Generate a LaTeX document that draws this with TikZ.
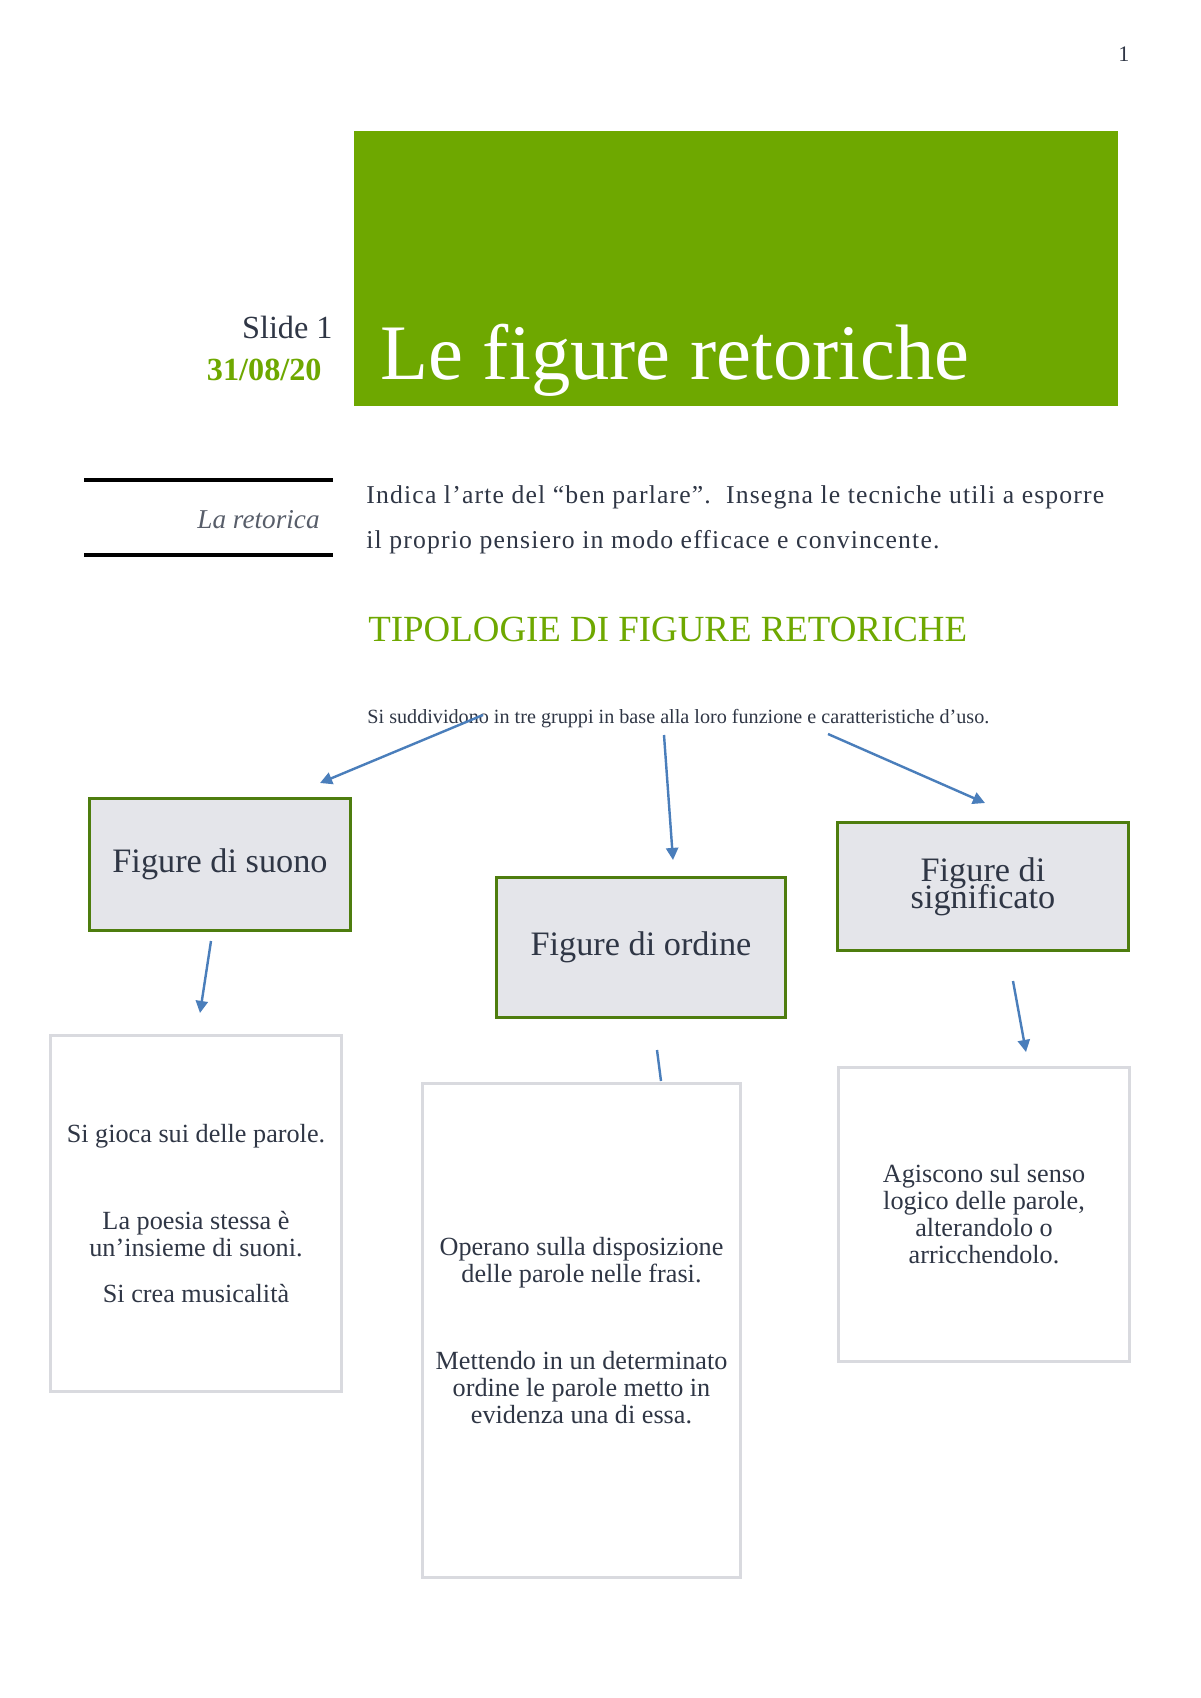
\documentclass[tikz,border=0pt]{standalone}
\usepackage{fontspec}
\setmainfont{Liberation Serif}
\newfontfamily\widefont[LetterSpace=4.5]{Liberation Serif}
\usetikzlibrary{arrows.meta}
\definecolor{titlegreen}{HTML}{6EA800}
\definecolor{boxgreen}{HTML}{4E7D0E}
\definecolor{boxfill}{HTML}{E4E5EA}
\definecolor{boxgrey}{HTML}{D9DADF}
\definecolor{arrowblue}{HTML}{4A7EBB}
\definecolor{inkgrey}{HTML}{2F3645}
\newcommand\tightlines{\lineskiplimit=-100pt\relax}
\begin{document}
\begin{tikzpicture}[x=0.4961pt, y=-0.4961pt, >={Triangle[length=6pt,width=6pt]},
	typebox/.style={draw=boxgreen, line width=1.5pt, fill=boxfill, text=inkgrey, align=center, font=\fontsize{17}{13.4}\selectfont\tightlines},
	notebox/.style={draw=boxgrey, line width=1.5pt, fill=white, text=inkgrey, align=center, font=\fontsize{13}{13.4}\selectfont\tightlines},
	link/.style={draw=arrowblue, line width=1.2pt}]
		\useasboundingbox [fill=white] (0,0) rectangle (1200,1698);
		\node [anchor=base, text=inkgrey, font=\fontsize{11}{13}\selectfont] (pagenum) at ( 1124, 61 ) {1};
		\node [anchor=north west, fill=titlegreen, minimum width=379pt, minimum height=136pt, inner sep=0pt] (header) at ( 354, 131 ) {};
		\node [anchor=base west, text=white, font=\fontsize{39}{44}\selectfont, inner sep=0pt] (title) at ( 380, 379 ) {Le figure retoriche};
		\node [anchor=base east, text=inkgrey, font=\fontsize{16}{19}\selectfont, inner sep=0pt] (slide) at ( 333, 338 ) {Slide 1};
		\node [anchor=base east, text=titlegreen, font=\fontsize{16}{19}\selectfont\bfseries, inner sep=0pt] (date) at ( 322, 380 ) {31/08/20};
		\draw [line width=2pt] ( 84, 480 ) -- ( 333, 480 );
		\draw [line width=1.5pt] ( 84, 555 ) -- ( 333, 555 );
		\node [anchor=base east, text=inkgrey!80, font=\fontsize{13.5}{16}\selectfont\itshape, inner sep=0pt] (retorica) at ( 320, 528 ) {La retorica};
		\node [anchor=base west, align=left, text=inkgrey, font=\widefont\fontsize{12.75}{22.3}\selectfont, inner sep=0pt] (intro) at ( 366, 548 ) {Indica l’arte del “ben parlare”.\ \ Insegna le tecniche utili a esporre\\il proprio pensiero in modo efficace e convincente.};
		\node [anchor=base west, text=titlegreen, font=\fontsize{18.3}{22}\selectfont, inner sep=0pt] (tipologie) at ( 368, 641 ) {TIPOLOGIE DI FIGURE RETORICHE};
		\node [anchor=base west, text=inkgrey, font=\fontsize{10}{12}\selectfont, inner sep=0pt] (gruppi) at ( 367, 723 ) {Si suddividono in tre gruppi in base alla loro funzione e caratteristiche d’uso.};
		\node [typebox, minimum width=129.5pt, minimum height=65.5pt] (suono) at ( 220, 864.5 ) {Figure di suono};
		\node [typebox, minimum width=143.4pt, minimum height=69.4pt] (ordine) at ( 641, 947.5 ) {Figure di ordine};
		\node [typebox, minimum width=144.4pt, minimum height=63.5pt] (significato) at ( 983, 886.5 ) {Figure di\\significato};
		\node [notebox, minimum width=144.4pt, minimum height=176.6pt] (suononote) at ( 196, 1213.5 ) {Si gioca sui delle parole.\\[29.8pt]La poesia stessa è\\un’insieme di suoni.\\[9.4pt]Si crea musicalità};
		\node [notebox, minimum width=157.7pt, minimum height=245.1pt] (ordinenote) at ( 581.5, 1330.5 ) {Operano sulla disposizione\\delle parole nelle frasi.\\[29.8pt]Mettendo in un determinato\\ordine le parole metto in\\evidenza una di essa.};
		\node [notebox, minimum width=144.4pt, minimum height=145.8pt] (significatonote) at ( 984, 1214.5 ) {Agiscono sul senso\\logico delle parole,\\alterandolo o\\arricchendolo.};
		\coordinate (s1) at ( 483, 715 );
		\coordinate (e1) at ( 320, 783 );
		\coordinate (s2) at ( 664, 735 );
		\coordinate (e2) at ( 673, 860 );
		\coordinate (s3) at ( 828, 734 );
		\coordinate (e3) at ( 985, 803 );
		\coordinate (s4) at ( 211, 941 );
		\coordinate (e4) at ( 200, 1013 );
		\coordinate (s5) at ( 657, 1050 );
		\coordinate (e5) at ( 661, 1081 );
		\coordinate (s6) at ( 1013, 981 );
		\coordinate (e6) at ( 1026, 1052 );
		\draw [link, ->] (s1) -- (e1);
		\draw [link, ->] (s2) -- (e2);
		\draw [link, ->] (s3) -- (e3);
		\draw [link, ->] (s4) -- (e4);
		\draw [link] (s5) -- (e5);
		\draw [link, ->] (s6) -- (e6);
	\end{tikzpicture}
\end{document}
